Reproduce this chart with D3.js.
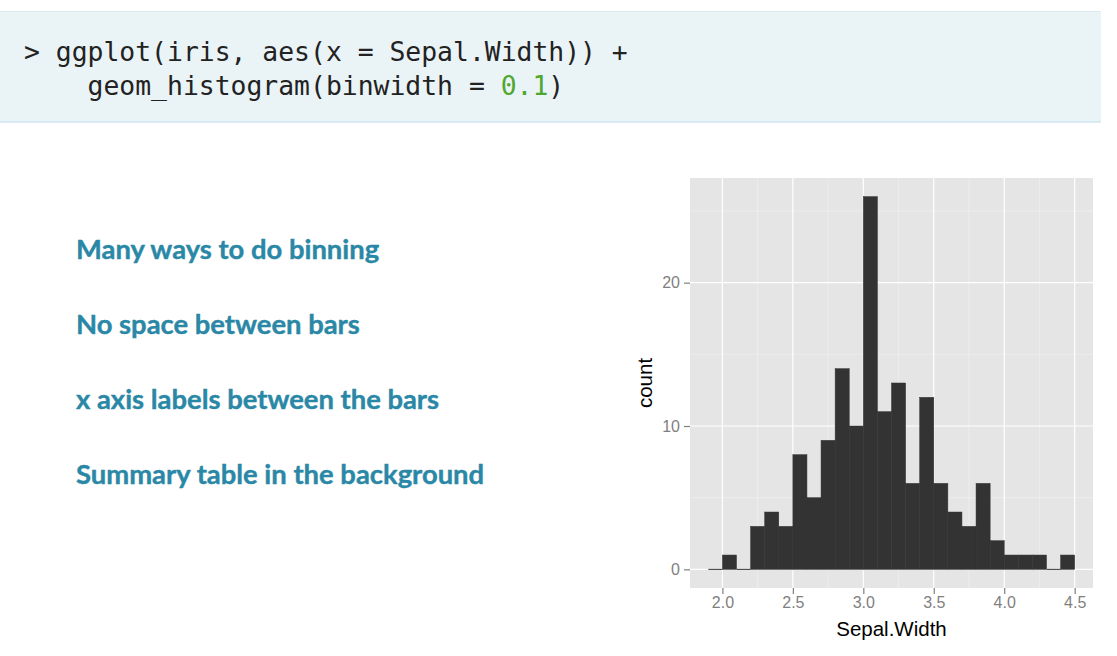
<!DOCTYPE html>
<html>
<head>
<meta charset="utf-8">
<script src="https://cdn.jsdelivr.net/npm/d3@7"></script>
<style>
  html, body { margin: 0; padding: 0; background: #fff; }
  svg { display: block; }
</style>
</head>
<body>
<svg id="slide" width="1117" height="656"></svg>
<script>
// iris Sepal.Width, binwidth = 0.1 — bin left edges and counts
const binStarts = [1.9, 2.0, 2.1, 2.2, 2.3, 2.4, 2.5, 2.6, 2.7, 2.8, 2.9, 3.0, 3.1,
                   3.2, 3.3, 3.4, 3.5, 3.6, 3.7, 3.8, 3.9, 4.0, 4.1, 4.2, 4.3, 4.4];
const counts = [0, 1, 0, 3, 4, 3, 8, 5, 9, 14, 10, 26, 11,
                13, 6, 12, 6, 4, 3, 6, 2, 1, 1, 1, 0, 1];
const binWidth = 0.1;
const xTicks = [2.0, 2.5, 3.0, 3.5, 4.0, 4.5];
const xMinor = [2.25, 2.75, 3.25, 3.75, 4.25];
const yTicks = [0, 10, 20];
const yMinor = [5, 15, 25];
const codeLines = [
  [["> ggplot(iris, aes(x = Sepal.Width)) +", "#222"]],
  [["    geom_histogram(binwidth = ", "#222"], ["0.1", "#4ea72e"], [")", "#222"]]
];
const bullets = [
  "Many ways to do binning",
  "No space between bars",
  "x axis labels between the bars",
  "Summary table in the background"
];

const svg = d3.select("#slide");
const SANS = "'Liberation Sans', Arial, sans-serif";

// ---------- code block ----------
svg.append("rect").attr("x", 0).attr("y", 11).attr("width", 1101).attr("height", 111).attr("fill", "#eaf3f6");
svg.append("line").attr("x1", 0).attr("x2", 1101).attr("y1", 11.5).attr("y2", 11.5).attr("stroke", "#dde9ee");
svg.append("line").attr("x1", 0).attr("x2", 1101).attr("y1", 122).attr("y2", 122).attr("stroke", "#cfe6f0").attr("stroke-width", 1.5);
const code = svg.append("text").attr("font-family", "'DejaVu Sans Mono', monospace").attr("font-size", 26.4)
  .attr("xml:space", "preserve").style("white-space", "pre");
codeLines.forEach((ln, i) => {
  const row = code.append("tspan").attr("x", 24).attr("y", 61 + i * 34);
  ln.forEach(([s, c]) => row.append("tspan").attr("fill", c).text(s));
});

// ---------- bullets ----------
svg.append("g").selectAll("text").data(bullets).join("text")
  .attr("x", 76).attr("y", (d, i) => 259 + i * 75)
  .attr("font-family", "Lato, 'Open Sans', sans-serif").attr("font-weight", 700)
  .attr("font-size", 27.4).attr("fill", "#2a88a6").attr("stroke", "#2a88a6").attr("stroke-width", 0.4)
  .text((d) => d);

// ---------- histogram panel ----------
const pL = 690, pR = 1093, pT = 178, pB = 588;
const xMax = d3.max(binStarts) + binWidth, xMin = d3.min(binStarts);
const xPad = (xMax - xMin) * 0.05, yPad = d3.max(counts) * 0.05;
const x = d3.scaleLinear().domain([xMin - xPad, xMax + xPad]).range([pL, pR]);
const y = d3.scaleLinear().domain([-yPad, d3.max(counts) + yPad]).range([pB, pT]);

const panel = svg.append("g");
panel.append("rect").attr("x", pL).attr("y", pT).attr("width", pR - pL).attr("height", pB - pT).attr("fill", "#e5e5e5");
panel.selectAll("line.vmin").data(xMinor).join("line").attr("class", "vmin")
  .attr("x1", (d) => x(d)).attr("x2", (d) => x(d)).attr("y1", pT).attr("y2", pB).attr("stroke", "#f2f2f2").attr("stroke-width", 0.6);
panel.selectAll("line.hmin").data(yMinor).join("line").attr("class", "hmin")
  .attr("y1", (d) => y(d)).attr("y2", (d) => y(d)).attr("x1", pL).attr("x2", pR).attr("stroke", "#f2f2f2").attr("stroke-width", 0.6);
panel.selectAll("line.vmaj").data(xTicks).join("line").attr("class", "vmaj")
  .attr("x1", (d) => x(d)).attr("x2", (d) => x(d)).attr("y1", pT).attr("y2", pB).attr("stroke", "#fff").attr("stroke-width", 1.2);
panel.selectAll("line.hmaj").data(yTicks).join("line").attr("class", "hmaj")
  .attr("y1", (d) => y(d)).attr("y2", (d) => y(d)).attr("x1", pL).attr("x2", pR).attr("stroke", "#fff").attr("stroke-width", 1.2);

const bins = binStarts.map((b, i) => ({ x0: b, x1: b + binWidth, n: counts[i] }));
panel.selectAll("rect.bar").data(bins.filter((d) => d.n > 0)).join("rect").attr("class", "bar")
  .attr("x", (d) => x(d.x0)).attr("width", (d) => x(d.x1) - x(d.x0))
  .attr("y", (d) => y(d.n)).attr("height", (d) => y(0) - y(d.n))
  .attr("fill", "#333333").attr("stroke", "#333333").attr("stroke-width", 0.5);
panel.selectAll("line.zero").data(bins.filter((d) => d.n === 0)).join("line").attr("class", "zero")
  .attr("x1", (d) => x(d.x0)).attr("x2", (d) => x(d.x1)).attr("y1", y(0)).attr("y2", y(0)).attr("stroke", "#333").attr("stroke-width", 1);

// axes
const xAxis = svg.append("g").attr("transform", `translate(0,${pB})`)
  .call(d3.axisBottom(x).tickValues(xTicks).tickFormat(d3.format(".1f")).tickSize(6).tickPadding(3));
const yAxis = svg.append("g").attr("transform", `translate(${pL},0)`)
  .call(d3.axisLeft(y).tickValues(yTicks).tickSize(6).tickPadding(4));
[xAxis, yAxis].forEach((a) => {
  a.attr("font-size", 16).attr("font-family", SANS);
  a.select(".domain").remove();
  a.selectAll(".tick line").attr("stroke", "#7f7f7f").attr("stroke-width", 1.2);
  a.selectAll(".tick text").attr("fill", "#7f7f7f");
});

svg.append("text").attr("x", (pL + pR) / 2).attr("y", 636).attr("text-anchor", "middle")
  .attr("font-family", SANS).attr("font-size", 20.5).attr("fill", "#000").text("Sepal.Width");
svg.append("text").attr("transform", `translate(652,${(pT + pB) / 2}) rotate(-90)`).attr("text-anchor", "middle")
  .attr("font-family", SANS).attr("font-size", 20.5).attr("fill", "#000").text("count");
</script>
</body>
</html>
